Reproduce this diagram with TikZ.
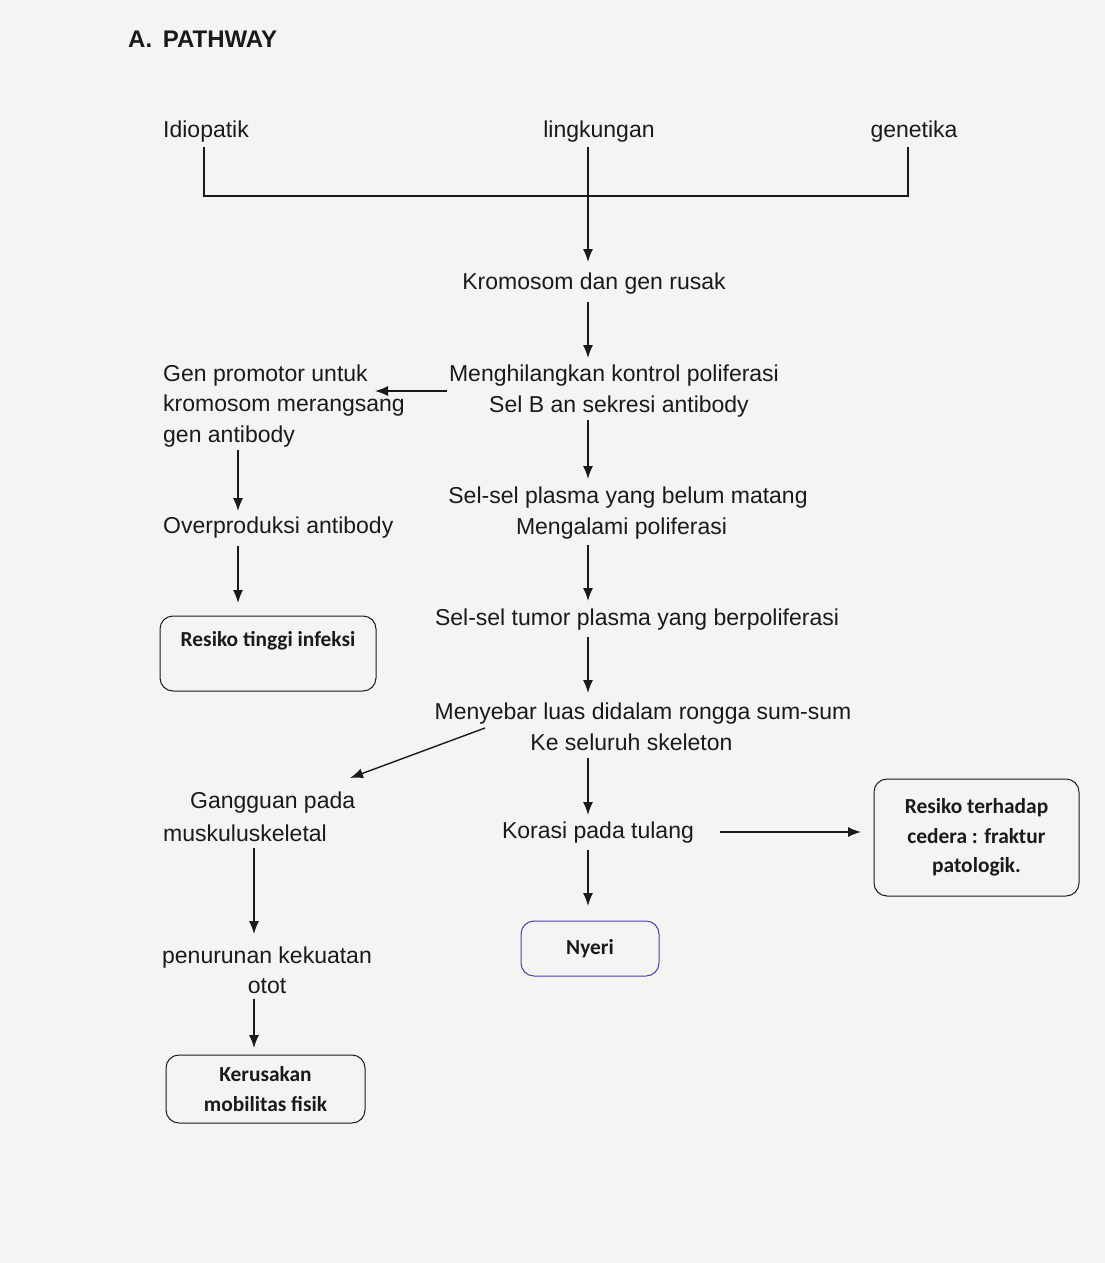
\documentclass[tikz,border=0pt]{standalone}
\usepackage{fontspec}
\setmainfont{Liberation Sans}
\newfontfamily\boxfont{Carlito}
\usetikzlibrary{arrows.meta}
\definecolor{bg}{HTML}{F4F4F2}
\definecolor{ink}{HTML}{1A1A1A}
\definecolor{nyeriblue}{HTML}{4A3FA8}
\begin{document}
\begin{tikzpicture}[x=1pt,y=-1pt,
  txt/.style={inner sep=0pt, font=\fontsize{23}{30.5}\selectfont, text=ink},
  ltxt/.style={txt, anchor=west, align=left},
  ctxt/.style={txt, align=center},
  box/.style={draw=ink, line width=1pt, rounded corners=13pt, fill=bg, align=center,
    font=\boxfont\bfseries\fontsize{21.4}{29.5}\selectfont, text=ink, inner sep=0pt},
  arr/.style={-{Latex[length=13pt,width=10pt]}, line width=1.4pt, draw=ink},
  ln/.style={line width=1.1pt, draw=ink}]
\useasboundingbox (0,0) rectangle (1105,1263);
\fill[bg] (0,0) rectangle (1105,1263);

\node[txt, anchor=west, font=\bfseries\fontsize{24}{28}\selectfont] (title) at (128,39) {A.\, PATHWAY};

\node[ltxt] (idio) at (163,132) {Idiopatik};
\node[ctxt] (ling) at (599,132) {lingkungan};
\node[ctxt] (gen) at (914,132) {genetika};

\coordinate (i1) at (204,147);
\coordinate (i2) at (204,196);
\coordinate (g1) at (908,147);
\coordinate (g2) at (908,196);
\coordinate (l1) at (588,147);
\draw[ln] (i1) -- (i2) -- (g2) -- (g1);

\node[ctxt] (krom) at (594,284) {Kromosom dan gen rusak};
\draw[arr] (l1) -- (588,262);

\node[ctxt] (meng) at (614,391) {Menghilangkan kontrol poliferasi\\\hspace*{10pt}Sel B an sekresi antibody};
\draw[arr] (588,302) -- (588,358);

\node[ltxt] (genp) at (163,406) {Gen promotor untuk\\kromosom merangsang\\gen antibody};
\draw[arr] (447,391) -- (375,391);

\node[ltxt] (over) at (163,528) {Overproduksi antibody};
\draw[arr] (238,450) -- (238,511);

\node[box, minimum width=216pt, minimum height=75pt] (b1) at (268,653.5) {Resiko tinggi infeksi\\[0pt]\mbox{}};
\draw[arr] (238,546) -- (238,603);

\node[ctxt] (sel) at (628,513) {Sel-sel plasma yang belum matang\\Mengalami poliferasi\hspace*{13pt}};
\draw[arr] (588,420) -- (588,479);

\node[ctxt] (tum) at (637,620) {Sel-sel tumor plasma yang berpoliferasi};
\draw[arr] (588,545) -- (588,601);

\node[ctxt] (meny) at (643,727) {Menyebar luas didalam rongga sum-sum\\Ke seluruh skeleton\hspace*{23pt}};
\draw[arr] (588,637) -- (588,693);

\node[ltxt] (gang1) at (190,803) {Gangguan pada};
\node[ltxt] (gang2) at (163,833) {muskuluskeletal};
\draw[arr] (485,728) -- (350,778);

\node[ctxt] (kor) at (598,833) {Korasi pada tulang};
\draw[arr] (588,758) -- (588,815);

\node[box, minimum width=205pt, minimum height=117pt] (b2) at (976.5,837.5) {Resiko terhadap\\cedera : fraktur\\patologik.};
\draw[arr] (720,832) -- (861,832);

\node[box, draw=nyeriblue, minimum width=138pt, minimum height=55pt] (b3) at (590,948.5) {Nyeri};
\draw[arr] (588,850) -- (588,906);

\node[ctxt] (pen) at (267,970.5) {penurunan kekuatan\\otot};
\draw[arr] (254,848) -- (254,934);

\node[box, minimum width=199pt, minimum height=68pt] (b4) at (265.5,1089) {Kerusakan\\mobilitas fisik};
\draw[arr] (254,999) -- (254,1048);
\end{tikzpicture}
\end{document}
